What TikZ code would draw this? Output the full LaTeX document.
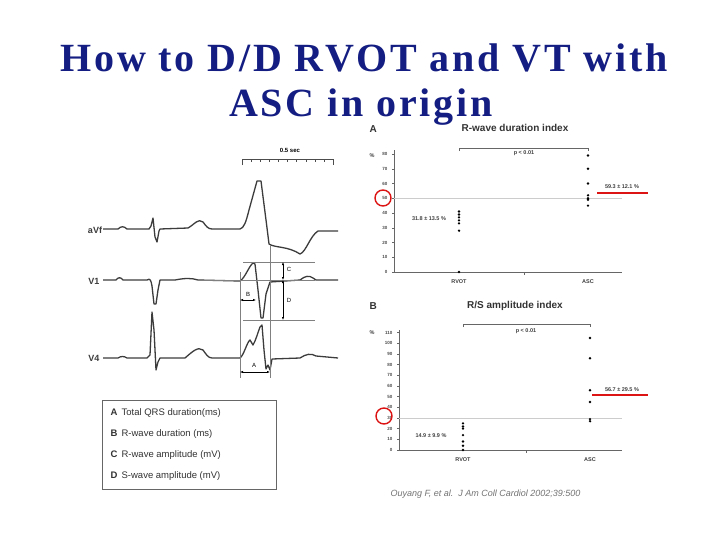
\documentclass[tikz,border=0pt]{standalone}
\usepackage{fontspec}
\setmainfont{Liberation Serif}
\setsansfont{Liberation Sans}
\newfontfamily\ttlfont[LetterSpace=7]{Liberation Serif}
\usetikzlibrary{arrows.meta}
\definecolor{titleblue}{RGB}{20,30,130}
\definecolor{trace}{RGB}{60,60,60}
\definecolor{mred}{RGB}{220,20,20}
\begin{document}
\begin{tikzpicture}[x=1pt,y=-1pt,
  ttl/.style={font=\ttlfont\fontsize{40}{44}\selectfont\bfseries, text=titleblue},
  ecg/.style={draw=trace, line width=1.3pt, line join=round},
  lead/.style={font=\sffamily\bfseries\fontsize{9}{10}\selectfont, text=trace},
  meas/.style={draw=gray, line width=0.4pt},
  marr/.style={draw=black, line width=0.5pt, {Latex[length=3pt]}-{Latex[length=3pt]}},
  ml/.style={font=\sffamily\fontsize{6}{7}\selectfont},
  leg/.style={font=\sffamily\fontsize{9.5}{11}\selectfont, anchor=west, text=black!80},
  tk/.style={font=\sffamily\bfseries\fontsize{4.5}{5}\selectfont, text=black!70, anchor=east},
  ctitle/.style={font=\sffamily\bfseries\fontsize{10}{12}\selectfont, text=black!80},
  sm/.style={font=\sffamily\bfseries\fontsize{5.5}{6}\selectfont, text=black!75},
  dot/.style={fill=black, circle, inner sep=0pt, minimum size=2.6pt},
  redc/.style={draw=mred, line width=1.4pt},
  redl/.style={draw=mred, line width=1.2pt},
  ax/.style={draw=black!60, line width=0.5pt}]
\useasboundingbox (0,0) rectangle (728,546);
\fill[white] (0,0) rectangle (728,546);
% ---- Chart A ----
\node[ctitle, anchor=west] (Aa) at (366,129) {A};
\node[ctitle] (At) at (515,128) {R-wave duration index};
% title
\node[ttl] (t1) at (364,58) {How to D/D RVOT and VT with};
\node[ttl] (t2) at (361,107) {ASC in origin};

% ---- ECG ----
\node[lead] (aVf) at (95,230) {aVf};
\node[lead] (V1) at (94,281) {V1};
\node[lead] (V4) at (94,358) {V4};
% aVf
\draw[ecg] (103,229) -- (118,229) .. controls (121,226) and (124,226) .. (127,229) -- (149,229)
  -- (151,226) -- (153,218) -- (155,237) -- (157,242) -- (159,231) -- (160,229) -- (188,228)
  .. controls (195,224) and (198,218) .. (203,222) .. controls (206,226) and (208,229) .. (212,229)
  -- (240,229) .. controls (244,228) and (246,222) .. (249,210) -- (257,181) -- (261,181) -- (266,220)
  -- (269,244) .. controls (275,248) and (288,246) .. (300,254) .. controls (306,252) and (310,236) .. (318,231) -- (338,231);
% V1
\draw[ecg] (103,280) -- (116,280) .. controls (118,277) and (121,277) .. (123,280) -- (147,280)
  .. controls (150,278) and (151,280) .. (152,286) -- (154,304) -- (156,304) -- (158,290) -- (160,280)
  -- (175,280) .. controls (185,278) and (192,278) .. (198,280) -- (240,281)
  .. controls (245,278) and (249,266) .. (253,263) -- (255,264) -- (258,290) -- (261,318) -- (263,318)
  -- (266,294) -- (270,282) -- (300,280) .. controls (305,276) and (309,275) .. (313,278) -- (316,280) -- (338,280);
% V4
\draw[ecg] (103,358) -- (118,358) .. controls (121,356) and (124,356) .. (127,358) -- (147,358)
  -- (150,355) -- (152,312) -- (154,330) -- (156,370) -- (158,362) -- (160,358) -- (185,358)
  .. controls (192,352) and (198,346) .. (203,350) .. controls (206,354) and (208,358) .. (212,358)
  -- (240,358) .. controls (244,355) and (247,342) .. (250,340) -- (253,345) .. controls (256,340) and (258,332) .. (260,327)
  -- (262,325) -- (264,350) -- (266,369) -- (268,365) -- (270,370) -- (272,359) -- (300,358)
  .. controls (306,354) and (311,353) .. (316,356) -- (338,358);
% measurement lines
\draw[meas] (240,272) -- (240,378);
\draw[meas] (270,245) -- (270,378);
\draw[meas] (243,262) -- (315,262);
\draw[meas] (198,280) -- (315,280);
\draw[meas] (243,320) -- (315,320);
\coordinate (c1) at (283,262); \coordinate (c2) at (283,280); \coordinate (c3) at (283,320);
\draw[marr] (c1) -- (c2);
\draw[marr] (c2) -- (c3);
\node[ml] (Cl) at (289,269) {C};
\node[ml] (Dl) at (289,300) {D};
\coordinate (b1) at (240,300); \coordinate (b2) at (256,300);
\draw[marr] (b1) -- (b2);
\node[ml] (Bl) at (248,294) {B};
\coordinate (a1) at (240,372); \coordinate (a2) at (270,372);
\draw[marr] (a1) -- (a2);
\node[ml] (Al) at (254,365) {A};
% scale bar
\draw[black!70, line width=0.5pt] (242,165) -- (242,159) -- (333,159) -- (333,165);
\foreach \i in {1,...,9} \draw[black!70, line width=0.4pt] (242+\i*9.1,159) -- (242+\i*9.1,162);
\node[ml] (sec) at (290,150) {\bfseries 0.5 sec};

% legend
\draw[black!60, line width=0.6pt] (102,400) rectangle (276,489);
\node[leg] (la) at (107,413) {\textbf{A}\, Total QRS duration(ms)};
\node[leg] (lb) at (107,434) {\textbf{B}\, R-wave duration (ms)};
\node[leg] (lc) at (107,455) {\textbf{C}\, R-wave amplitude (mV)};
\node[leg] (ld) at (107,476) {\textbf{D}\, S-wave amplitude (mV)};

% Chart A body
\node[sm] (Apc) at (372,156) {\%};
\draw[ax] (394,150) -- (394,272) -- (622,272);
\draw[ax] (524,272) -- (524,275);
\foreach \v in {0,10,...,80} {
  \draw[ax] (392,272-\v*1.475) -- (394,272-\v*1.475);
  \node[tk] at (391,272-\v*1.475) {\v};
}
\draw[black!20, line width=0.5pt] (394,198.25) -- (622,198.25);
\draw[black!60, line width=0.4pt] (459,151) -- (459,148) -- (588,148) -- (588,151);
\node[sm] (Ap) at (524,153) {p < 0.01};
\foreach \v in {41,39,37,35,33,28,0} \node[dot] at (459,272-\v*1.475) {};
\foreach \v in {79,70,60,52,50,49,45} \node[dot] at (588,272-\v*1.475) {};
\node[sm] (Am1) at (429,219) {31.8 ± 13.5 \%};
\node[sm] (Am2) at (622,187) {59.3 ± 12.1 \%};
\draw[redl] (597,193) -- (648,193);
\draw[redc] (383,198) circle (8);
\node[sm] (Ar) at (459,282) {RVOT};
\node[sm] (As) at (588,282) {ASC};

% ---- Chart B ----
\node[ctitle, anchor=west] (Ba) at (366,306) {B};
\node[ctitle] (Bt) at (515,306) {R/S amplitude index};
\node[sm] (Bpc) at (372,333) {\%};
\draw[ax] (399,330) -- (399,450) -- (622,450);
\draw[ax] (526,450) -- (526,453);
\foreach \v in {0,10,...,110} {
  \draw[ax] (397,450-\v*1.0667) -- (399,450-\v*1.0667);
  \node[tk] at (396,450-\v*1.0667) {\v};
}
\draw[black!20, line width=0.5pt] (399,418) -- (622,418);
\draw[black!60, line width=0.4pt] (463,327) -- (463,324) -- (590,324) -- (590,327);
\node[sm] (Bp) at (526,331) {p < 0.01};
\foreach \v in {25,22,20,14,8,4,0} \node[dot] at (463,450-\v*1.0667) {};
\foreach \v in {105,86,56,45,29,27} \node[dot] at (590,450-\v*1.0667) {};
\node[sm] (Bm1) at (431,436) {14.9 ± 9.9 \%};
\node[sm] (Bm2) at (622,390) {56.7 ± 29.5 \%};
\draw[redl] (592,395) -- (648,395);
\draw[redc] (384,416) circle (8);
\node[sm] (Br) at (463,460) {RVOT};
\node[sm] (Bs) at (590,460) {ASC};

% citation
\node[font=\sffamily\itshape\fontsize{9}{11}\selectfont, text=black!55, anchor=west] (cit) at (387,494) {Ouyang F, et al.\ \ J Am Coll Cardiol 2002;39:500};
\end{tikzpicture}
\end{document}
